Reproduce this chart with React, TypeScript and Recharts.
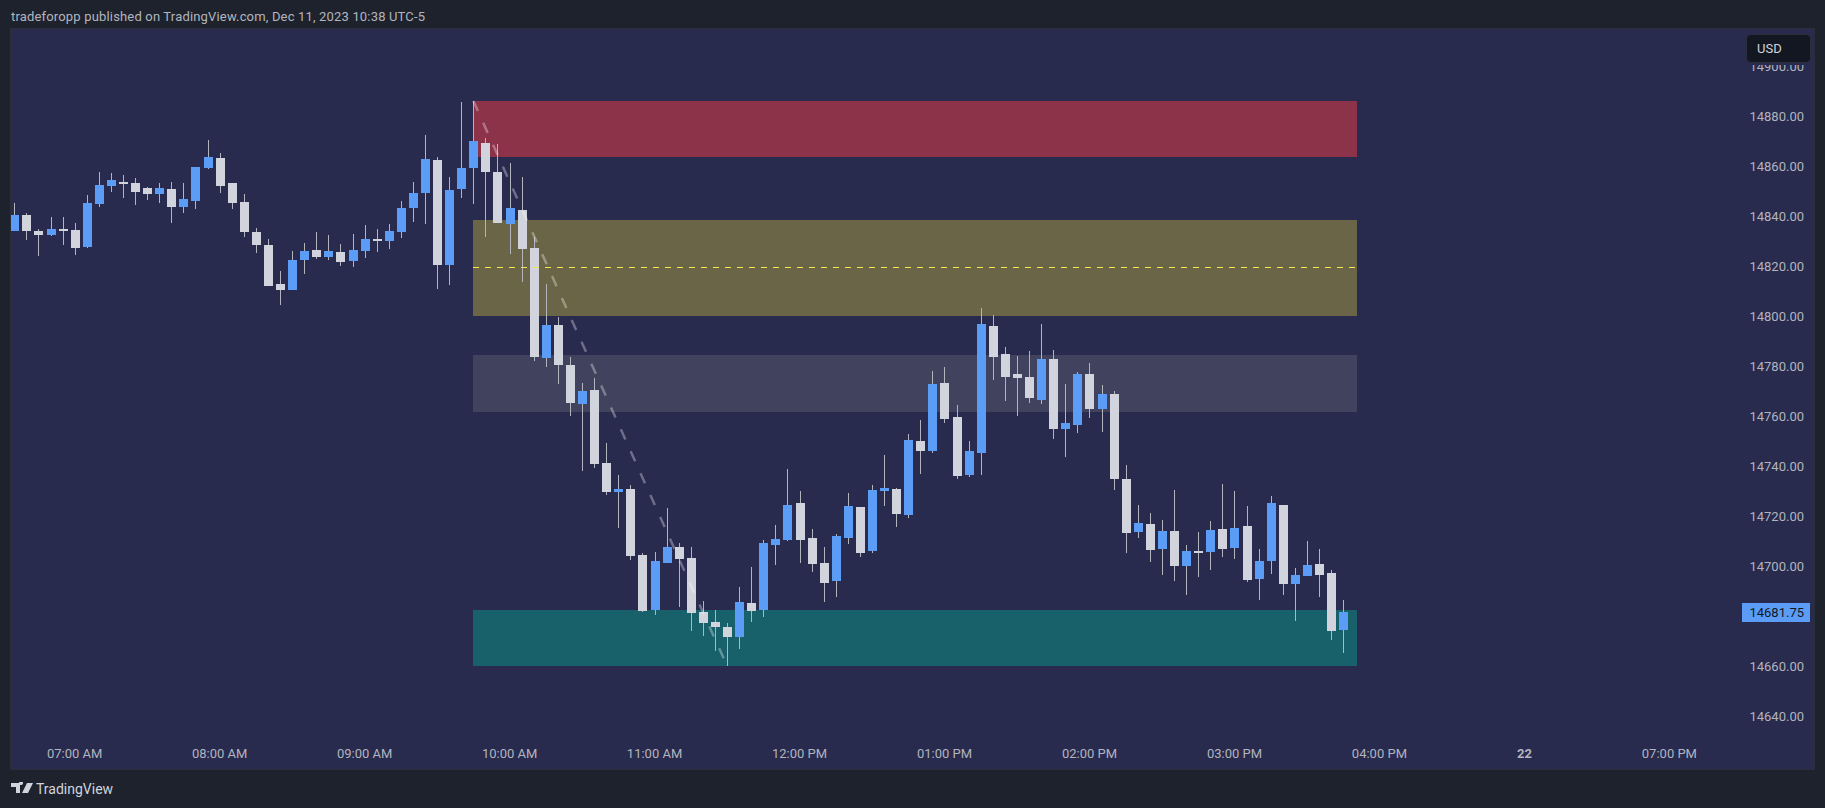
import React from "react";
import { ComposedChart, Bar, Cell, XAxis, YAxis, ReferenceArea, ReferenceLine } from "recharts";

const highs = [14845.5,14841.5,14835.1,14839.9,14839.9,14837.5,14848.7,14857.9,14857.5,14856.7,14855.5,14851.9,14853.5,14853.9,14853.5,14859.9,14870.7,14865.5,14853.5,14849.1,14835.5,14831.1,14818.3,14826.3,14829.5,14833.9,14832.7,14829.1,14833.1,14836.7,14835.1,14837.1,14846.3,14853.9,14872.7,14863.9,14855.9,14885.9,14886.3,14871.5,14869.1,14861.5,14855.9,14831.9,14813.1,14799.9,14783.9,14773.5,14775.5,14749.5,14736.7,14732.7,14705.5,14705.9,14723.5,14709.5,14707.9,14686.3,14682.7,14677.5,14691.9,14699.9,14710.7,14716.7,14739.1,14730.3,14715.1,14707.9,14713.1,14729.5,14723.9,14732.7,14744.7,14731.5,14753.1,14758.7,14778.3,14779.9,14764.7,14750.3,14803.5,14800.7,14787.9,14784.3,14786.3,14797.1,14786.7,14773.1,14777.9,14781.5,14772.7,14770.3,14740.7,14724.7,14721.5,14718.7,14730.7,14708.7,14713.9,14718.3,14733.1,14730.3,14724.3,14707.1,14728.3,14724.7,14699.5,14710.3,14707.1,14698.7,14686.7];
const bodyTops = [14840.7,14840.7,14834.3,14835.1,14835.1,14834.7,14845.5,14852.7,14854.7,14853.9,14853.5,14851.5,14851.5,14851.1,14847.1,14859.9,14863.9,14863.5,14853.5,14845.9,14833.9,14828.7,14813.1,14822.7,14826.3,14826.7,14826.3,14825.9,14826.7,14831.1,14831.1,14834.3,14843.5,14849.5,14863.1,14862.7,14850.7,14859.5,14870.3,14869.5,14857.9,14843.5,14842.7,14827.5,14796.7,14796.7,14780.7,14770.3,14770.7,14741.5,14731.1,14731.1,14704.7,14702.3,14707.9,14707.9,14703.5,14681.9,14677.9,14675.9,14685.9,14685.5,14709.5,14711.1,14724.7,14725.5,14711.5,14701.5,14712.3,14724.3,14723.9,14730.7,14731.5,14731.1,14750.7,14750.3,14773.1,14773.5,14759.9,14746.3,14797.1,14796.3,14785.1,14777.1,14775.9,14783.1,14783.1,14757.5,14777.1,14777.1,14769.1,14769.1,14735.1,14717.5,14717.1,14714.3,14714.3,14706.3,14706.3,14714.7,14715.1,14715.5,14716.3,14702.3,14725.5,14724.7,14696.7,14700.7,14701.1,14697.5,14681.9];
const bodyBottoms = [14834.4,14834.4,14832.7,14832.7,14834.3,14827.5,14827.9,14845.1,14852.3,14853.1,14849.9,14849.1,14849.1,14843.9,14843.9,14846.3,14859.5,14852.3,14845.5,14833.9,14828.7,14812.3,14810.7,14810.7,14822.7,14823.9,14823.9,14821.9,14822.3,14826.3,14830.3,14830.3,14833.9,14843.5,14849.5,14820.7,14820.7,14851.1,14859.5,14857.9,14837.5,14837.1,14827.1,14783.9,14783.5,14780.7,14765.5,14765.1,14741.1,14729.9,14729.9,14704.3,14682.3,14682.7,14701.5,14703.1,14681.5,14677.5,14675.9,14671.9,14671.9,14682.3,14682.7,14708.7,14710.7,14710.7,14701.1,14693.5,14694.3,14711.5,14705.5,14706.3,14730.3,14721.1,14720.7,14746.3,14746.3,14759.1,14736.3,14736.7,14745.5,14783.9,14775.9,14775.5,14767.5,14766.7,14755.1,14755.1,14756.7,14763.1,14763.1,14735.1,14713.5,14713.9,14706.7,14707.1,14700.3,14700.3,14705.5,14705.9,14707.1,14707.5,14694.7,14695.1,14702.3,14693.1,14693.1,14696.3,14696.7,14674.3,14674.7];
const lows = [14834.4,14830.7,14824.3,14832.3,14828.7,14824.7,14827.5,14843.9,14849.9,14847.5,14844.7,14846.7,14845.5,14837.5,14841.5,14843.1,14859.1,14849.5,14843.1,14831.9,14825.5,14812.3,14804.7,14810.7,14817.1,14823.1,14822.7,14820.3,14819.9,14823.5,14825.9,14827.1,14831.5,14837.9,14837.1,14811.1,14812.7,14847.5,14845.1,14831.9,14837.5,14825.1,14813.9,14782.3,14779.9,14773.1,14760.3,14738.3,14739.5,14728.7,14715.5,14702.7,14681.9,14680.7,14701.5,14683.9,14674.3,14672.3,14666.3,14660.3,14667.1,14677.9,14679.9,14700.7,14710.3,14701.5,14697.9,14685.9,14687.9,14709.1,14703.9,14705.5,14724.3,14715.9,14719.5,14737.1,14745.5,14757.5,14735.1,14735.9,14736.7,14774.7,14766.3,14760.3,14765.5,14765.1,14751.1,14743.9,14753.5,14759.5,14753.9,14730.7,14705.5,14711.5,14701.9,14696.7,14694.3,14688.7,14695.9,14698.7,14703.9,14703.1,14693.9,14686.7,14697.1,14688.7,14678.3,14696.3,14687.9,14670.7,14665.5];
const risingCandles = [0,3,6,7,8,12,14,15,16,23,24,26,28,29,31,32,33,34,36,37,38,41,44,47,50,53,54,60,62,63,64,68,69,71,72,74,76,79,80,85,87,88,90,93,95,97,99,101,103,104,106,107,110];

const priceTicks = [14640,14660,14700,14720,14740,14760,14780,14800,14820,14840,14860,14880,14900];
const timeTicks = [5,17,29,41,53,65,77,89,101,113,125,137];
const timeLabels = ["07:00 AM","08:00 AM","09:00 AM","10:00 AM","11:00 AM","12:00 PM","01:00 PM","02:00 PM","03:00 PM","04:00 PM","22","07:00 PM"];

const zoneStart = 38;
const zoneEnd = 111.13;
const redZone = [14863.9, 14886.3];
const yellowZone = [14800.3, 14838.7];
const yellowMid = 14819.8;
const greyZone = [14761.9, 14784.7];
const tealZone = [14660.3, 14682.7];
const diagonal = [{ x: 38, y: 14886.3 }, { x: 59, y: 14660.3 }];
const lastPrice = 14681.75;

const FONT = "Roboto, sans-serif";
const candles = highs.map((h, i) => ({
  i,
  wick: [lows[i], h],
  body: [bodyBottoms[i], bodyTops[i]],
  rising: risingCandles.includes(i),
}));

const TimeTick = (props: any) => {
  const { x, payload } = props;
  const label = timeLabels[timeTicks.indexOf(payload.value)];
  const bold = label === "22";
  return (
    <text x={x} y={753} textAnchor="middle" dominantBaseline="central" fontFamily={FONT} fontSize={13} fontWeight={bold ? 700 : 400} fill="#b2b5be">
      {label}
    </text>
  );
};

const PriceTick = (props: any) => {
  const { y, payload } = props;
  return (
    <text x={1804} y={y} textAnchor="end" dominantBaseline="central" fontFamily={FONT} fontSize={13} fill="#b2b5be">
      {payload.value.toFixed(2)}
    </text>
  );
};

const PriceTag = (props: any) => {
  const y = props.viewBox.y;
  return (
    <g>
      <rect x={1742} y={y - 9.5} width={68} height={19} fill="#5b9cf6" />
      <text x={1804} y={y} textAnchor="end" dominantBaseline="central" fontFamily={FONT} fontSize={13} fill="#131722">
        {lastPrice.toFixed(2)}
      </text>
    </g>
  );
};

export default function App() {
  return (
    <div style={{ position: "absolute", left: 0, top: 0, width: 1825, height: 808, background: "#1e222d", overflow: "hidden" }}>
      <div style={{ position: "absolute", left: 10, top: 28, width: 1805, height: 742, boxSizing: "border-box", background: "#282a4e", border: "1px solid #2a2e39" }} />
      <div style={{ position: "absolute", left: 11, top: 9, fontFamily: FONT, fontSize: 13, lineHeight: "16px", letterSpacing: 0.17, color: "#b2b5be", whiteSpace: "nowrap" }}>
        tradeforopp published on TradingView.com, Dec 11, 2023 10:38 UTC-5
      </div>
      <div style={{ position: "absolute", left: 0, top: 0 }}>
        <ComposedChart
          width={1825}
          height={808}
          data={candles}
          margin={{ top: 29, right: 11, bottom: 39, left: 11 }}
          style={{ shapeRendering: "crispEdges" }}
        >
          <XAxis xAxisId="main" type="number" dataKey="i" domain={[-0.273, 148.97]} allowDataOverflow ticks={timeTicks} height={1} mirror axisLine={false} tickLine={false} tick={<TimeTick />} interval={0} />
          <XAxis xAxisId="bodies" type="number" dataKey="i" domain={[-0.273, 148.97]} allowDataOverflow ticks={timeTicks} height={1} hide />
          <YAxis yAxisId="price" orientation="right" domain={[14619.08, 14915.08]} allowDataOverflow ticks={priceTicks} width={1} mirror axisLine={false} tickLine={false} interval={0} tick={<PriceTick />} />
          <ReferenceArea xAxisId="main" yAxisId="price" x1={zoneStart} x2={zoneEnd} y1={redZone[0]} y2={redZone[1]} fill="#8c3249" fillOpacity={1} />
          <ReferenceArea xAxisId="main" yAxisId="price" x1={zoneStart} x2={zoneEnd} y1={yellowZone[0]} y2={yellowZone[1]} fill="#6b6547" fillOpacity={1} />
          <ReferenceArea xAxisId="main" yAxisId="price" x1={zoneStart} x2={zoneEnd} y1={greyZone[0]} y2={greyZone[1]} fill="#41435e" fillOpacity={1} />
          <ReferenceArea xAxisId="main" yAxisId="price" x1={zoneStart} x2={zoneEnd} y1={tealZone[0]} y2={tealZone[1]} fill="#19616a" fillOpacity={1} />
          <ReferenceLine xAxisId="main" yAxisId="price" segment={[{ x: zoneStart, y: yellowMid }, { x: zoneEnd, y: yellowMid }]} stroke="#f5e84a" strokeWidth={1} strokeDasharray="6 6" />
          <ReferenceLine xAxisId="main" yAxisId="price" segment={diagonal} stroke="#ffffff" strokeOpacity={0.32} strokeWidth={2.5} strokeDasharray="11 13" style={{ shapeRendering: "geometricPrecision" }} />
          <Bar xAxisId="main" yAxisId="price" dataKey="wick" barSize={1} fill="#b2b5be" isAnimationActive={false} />
          <Bar xAxisId="bodies" yAxisId="price" dataKey="body" barSize={9} isAnimationActive={false}>
            {candles.map((c) => (
              <Cell key={c.i} fill={c.rising ? "#5b9cf6" : "#d1d4dc"} />
            ))}
          </Bar>
          <ReferenceLine xAxisId="main" yAxisId="price" y={lastPrice} stroke="none" label={<PriceTag />} />
        </ComposedChart>
      </div>
      <div style={{ position: "absolute", left: 1746, top: 34, width: 65, height: 29, boxSizing: "border-box", background: "#131722", border: "1px solid #2a2e39", borderRadius: 5, boxShadow: "0 0 0 2px #282a4e", fontFamily: FONT, fontSize: 13, lineHeight: "27px", paddingLeft: 10, color: "#d1d4dc" }}>
        USD
      </div>
      <svg style={{ position: "absolute", left: 11, top: 782 }} width={22} height={13} viewBox="0 0 22 13">
        <path d="M0 1h9v10h-4v-6h-5z M10 3a2 2 0 1 1 0.1 0z M16 1h6l-5 10h-6z" fill="#d1d4dc" />
      </svg>
      <div style={{ position: "absolute", left: 36, top: 780, fontFamily: FONT, fontSize: 14, lineHeight: "18px", color: "#d1d4dc" }}>TradingView</div>
    </div>
  );
}
